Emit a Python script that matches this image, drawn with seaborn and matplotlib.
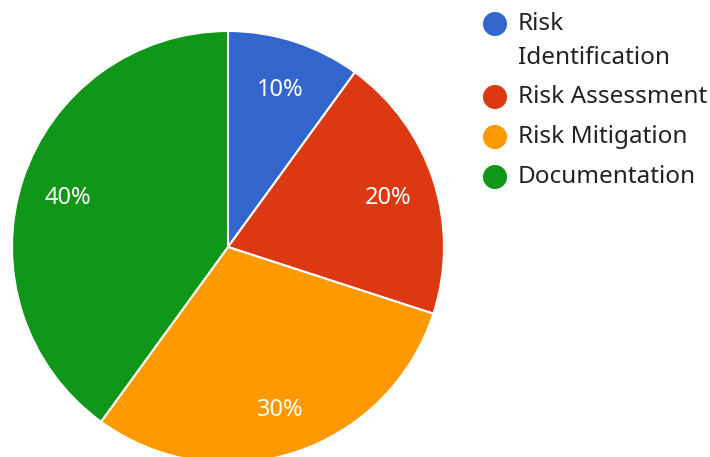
import matplotlib
matplotlib.use('Agg')
import matplotlib.pyplot as plt
import seaborn as sns

# dados do gráfico
categorias = ['Risk\nIdentification', 'Risk Assessment', 'Risk Mitigation', 'Documentation']
valores = [10, 20, 30, 40]
cores = ['#3366cc', '#dc3912', '#ff9900', '#109618']

sns.set_style('white')
plt.rcParams['font.family'] = ['Noto Sans', 'DejaVu Sans']

fig = plt.figure(figsize=(7.10, 4.57), dpi=100)
# centro do pie em (228, 247) px, raio ~216 px
W, H = 710, 457
cx, cy, r = 228, 247, 216
ax = fig.add_axes([(cx - r) / W, (H - cy - r) / H, 2 * r / W, 2 * r / H])

wedges, textos, autotextos = ax.pie(
    valores, colors=cores, startangle=90, counterclock=False,
    autopct='%1.0f%%', pctdistance=0.78, radius=1,
    wedgeprops=dict(edgecolor='white', linewidth=1.5),
    textprops=dict(color='white', fontsize=17))
# rótulos um pouco mais baixos, como no original
for t in autotextos:
    x, y = t.get_position()
    t.set_position((x, y - 3 / r))
ax.set_xlim(-1, 1)
ax.set_ylim(-1, 1)
ax.set_aspect('equal')
ax.axis('off')

# legenda desenhada à mão, em coordenadas de pixel
leg = fig.add_axes([0, 0, 1, 1])
leg.set_xlim(0, W)
leg.set_ylim(H, 0)
leg.axis('off')
ys_marker = [24, 97, 137, 177]
ys_texto = [41, 97, 137, 177]
leg.scatter([495] * 4, ys_marker, s=300, c=cores, linewidths=0)
for lab, y in zip(categorias, ys_texto):
    leg.text(518, y, lab, fontsize=17.5, color='#222222', va='center', ha='left',
             linespacing=1.55)

fig.savefig('out.png', dpi=100)
